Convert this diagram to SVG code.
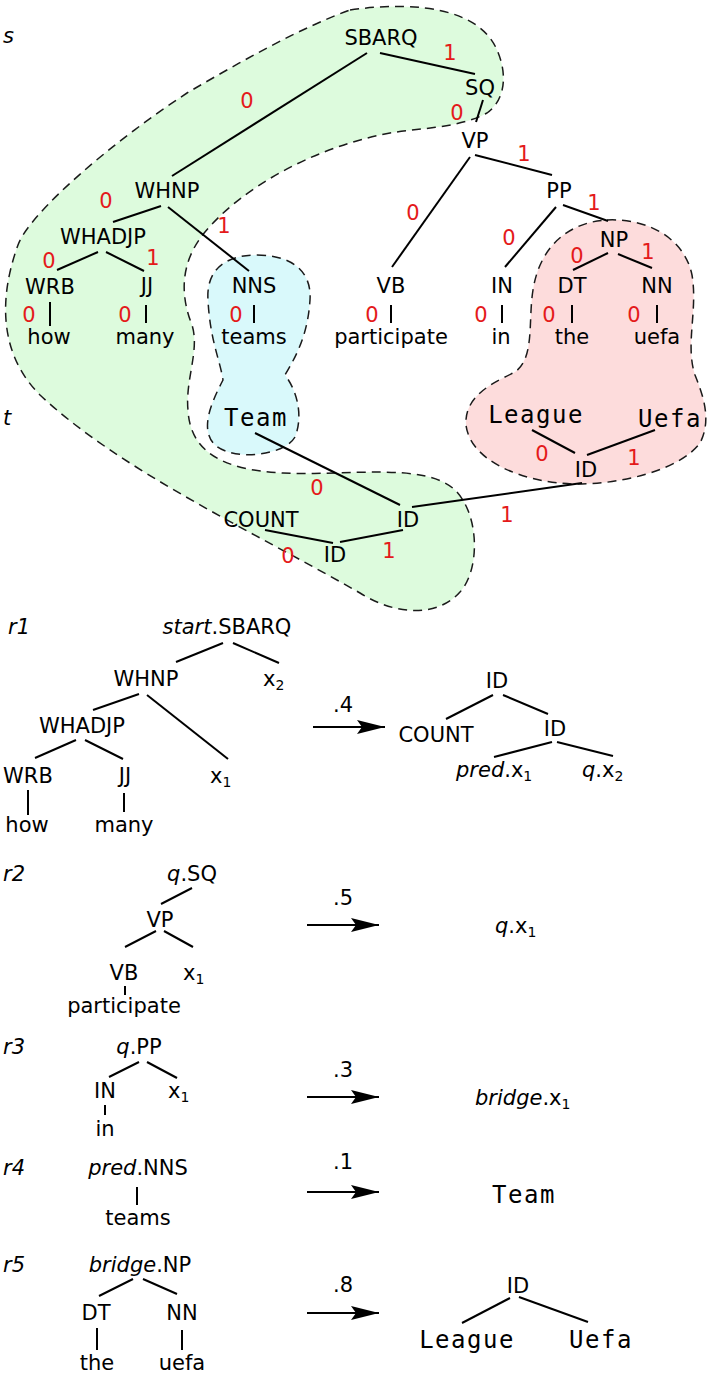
<svg xmlns="http://www.w3.org/2000/svg" width="713" height="1374" viewBox="0 0 713 1374">
<style>
text{font-family:"DejaVu Sans","Liberation Sans",sans-serif;font-size:21px;fill:#000}
.m{text-anchor:middle}
.i{font-style:italic}
.r{fill:#e41a1a;text-anchor:middle}
.mono{font-family:"DejaVu Sans Mono","Liberation Mono",monospace;font-size:24px;letter-spacing:1.5px;text-anchor:middle}
.sub{font-size:14px}
.blob{stroke:#1a1a1a;stroke-width:1.5;stroke-dasharray:9 6}
line{stroke:#000;stroke-width:2}
.arr{stroke-width:2}
</style>
<defs>
<marker id="stealth" markerUnits="userSpaceOnUse" markerWidth="30" markerHeight="16" refX="28" refY="7" orient="auto">
<path d="M0,0 L28,7 L0,14 L5,7 Z" fill="#000"/>
</marker>
</defs>

<g id="regions">
<path id="region-green" class="blob" fill="#ddfbdd" d="M350,10 C420,0 480,10 497,50 C508,75 505,100 487,113 C460,128 420,128 390,133 C310,148 240,190 205,232 C180,262 180,295 192,325 C200,350 185,380 188,410 C190,450 220,470 283,473 C350,476 425,462 455,490 C480,515 480,570 460,592 C440,615 400,618 360,593 C250,530 120,470 40,395 C0,355 -2,300 18,245 C30,212 115,140 187,93 C240,62 300,28 350,10 Z"/>
<path id="region-blue" class="blob" fill="#d9f9fb" d="M257,255 C290,255 312,270 310,300 C308,330 300,350 285,375 C300,395 302,420 295,437 C285,455 235,462 215,445 C200,430 210,405 223,380 C220,360 210,340 208,300 C206,270 225,255 257,255 Z"/>
<path id="region-pink" class="blob" fill="#fddcdc" d="M607,220 C650,218 685,240 692,275 C698,310 685,345 695,375 C703,395 712,420 700,443 C680,470 620,485 573,484 C520,482 470,460 466,425 C464,395 495,382 515,372 C535,358 528,320 533,290 C540,245 570,222 607,220 Z"/>
</g>

<g id="connectors">
<line x1="367" y1="53" x2="172" y2="176"/>
<line x1="380" y1="53" x2="475" y2="74"/>
<line x1="483" y1="100" x2="476" y2="122"/>
<line x1="470" y1="157" x2="392" y2="267"/>
<line x1="475" y1="155" x2="552" y2="175"/>
<line x1="556" y1="207" x2="505" y2="267"/>
<line x1="563" y1="205" x2="608" y2="221"/>
<line x1="608" y1="253" x2="573" y2="270"/>
<line x1="618" y1="254" x2="652" y2="268"/>
<line x1="161" y1="206" x2="113" y2="222"/>
<line x1="168" y1="207" x2="249" y2="271"/>
<line x1="98" y1="252" x2="57" y2="270"/>
<line x1="106" y1="252" x2="144" y2="271"/>
<line x1="50" y1="302" x2="50" y2="326"/>
<line x1="146" y1="305" x2="146" y2="323"/>
<line x1="254" y1="305" x2="254" y2="323"/>
<line x1="391" y1="305" x2="391" y2="323"/>
<line x1="502" y1="305" x2="502" y2="323"/>
<line x1="572" y1="305" x2="572" y2="323"/>
<line x1="657" y1="305" x2="657" y2="323"/>
<line x1="255" y1="433" x2="400" y2="505"/>
<line x1="532" y1="430" x2="575" y2="453"/>
<line x1="655" y1="430" x2="587" y2="455"/>
<line x1="582" y1="483" x2="412" y2="507"/>
<line x1="403" y1="530" x2="340" y2="542"/>
<line x1="265" y1="530" x2="333" y2="543"/>
<!-- r1 -->
<line x1="223" y1="643" x2="176" y2="662"/>
<line x1="233" y1="643" x2="279" y2="663"/>
<line x1="139" y1="694" x2="93" y2="710"/>
<line x1="147" y1="695" x2="228" y2="759"/>
<line x1="76" y1="740" x2="35" y2="758"/>
<line x1="85" y1="740" x2="123" y2="759"/>
<line x1="28" y1="790" x2="28" y2="815"/>
<line x1="124" y1="793" x2="124" y2="812"/>
<line x1="493" y1="695" x2="446" y2="719"/>
<line x1="503" y1="695" x2="548" y2="714"/>
<line x1="552" y1="742" x2="494" y2="757"/>
<line x1="557" y1="742" x2="613" y2="756"/>
<line class="arr" x1="313" y1="727" x2="385" y2="727" marker-end="url(#stealth)"/>
<!-- r2 -->
<line x1="192" y1="888" x2="161" y2="904"/>
<line x1="156" y1="931" x2="125" y2="947"/>
<line x1="164" y1="931" x2="193" y2="947"/>
<line x1="125" y1="986" x2="125" y2="995"/>
<line class="arr" x1="307" y1="925" x2="379" y2="925" marker-end="url(#stealth)"/>
<!-- r3 -->
<line x1="139" y1="1062" x2="109" y2="1077"/>
<line x1="147" y1="1062" x2="177" y2="1078"/>
<line x1="105" y1="1105" x2="105" y2="1115"/>
<line class="arr" x1="307" y1="1097" x2="379" y2="1097" marker-end="url(#stealth)"/>
<!-- r4 -->
<line x1="137" y1="1187" x2="137" y2="1205"/>
<line class="arr" x1="307" y1="1192" x2="379" y2="1192" marker-end="url(#stealth)"/>
<!-- r5 -->
<line x1="133" y1="1279" x2="99" y2="1296"/>
<line x1="143" y1="1279" x2="177" y2="1294"/>
<line x1="97" y1="1328" x2="97" y2="1350"/>
<line x1="182" y1="1330" x2="182" y2="1350"/>
<line x1="510" y1="1298" x2="462" y2="1323"/>
<line x1="519" y1="1297" x2="588" y2="1322"/>
<line class="arr" x1="307" y1="1313" x2="379" y2="1313" marker-end="url(#stealth)"/>
</g>

<g id="edge-labels">
<text class="r" x="247" y="108">0</text>
<text class="r" x="450" y="60">1</text>
<text class="r" x="457" y="120">0</text>
<text class="r" x="524" y="161">1</text>
<text class="r" x="413" y="220">0</text>
<text class="r" x="594" y="210">1</text>
<text class="r" x="509" y="245">0</text>
<text class="r" x="577" y="263">0</text>
<text class="r" x="648" y="259">1</text>
<text class="r" x="106" y="208">0</text>
<text class="r" x="224" y="233">1</text>
<text class="r" x="49" y="268">0</text>
<text class="r" x="153" y="265">1</text>
<text class="r" x="29" y="322">0</text>
<text class="r" x="125" y="322">0</text>
<text class="r" x="236" y="322">0</text>
<text class="r" x="372" y="322">0</text>
<text class="r" x="481" y="322">0</text>
<text class="r" x="549" y="322">0</text>
<text class="r" x="634" y="322">0</text>
<text class="r" x="542" y="461">0</text>
<text class="r" x="634" y="465">1</text>
<text class="r" x="507" y="522">1</text>
<text class="r" x="317" y="495">0</text>
<text class="r" x="389" y="558">1</text>
<text class="r" x="288" y="563">0</text>
<text class="m" x="343" y="712">.4</text>
<text class="m" x="343" y="905">.5</text>
<text class="m" x="343" y="1077">.3</text>
<text class="m" x="343" y="1169">.1</text>
<text class="m" x="343" y="1292">.8</text>
</g>

<g id="section-labels">
<text class="i" x="3" y="43">s</text>
<text class="i" x="3" y="425">t</text>
<text class="i" x="8" y="634">r1</text>
<text class="i" x="3" y="881">r2</text>
<text class="i" x="3" y="1054">r3</text>
<text class="i" x="3" y="1175">r4</text>
<text class="i" x="3" y="1272">r5</text>
</g>

<g id="n-SBARQ"><text class="m" x="381" y="45">SBARQ</text></g>
<g id="n-SQ"><text class="m" x="480" y="95">SQ</text></g>
<g id="n-VP"><text class="m" x="475" y="148">VP</text></g>
<g id="n-PP"><text class="m" x="559" y="198">PP</text></g>
<g id="n-NP"><text class="m" x="614" y="247">NP</text></g>
<g id="n-WHNP"><text class="m" x="167" y="198">WHNP</text></g>
<g id="n-WHADJP"><text class="m" x="103" y="244">WHADJP</text></g>
<g id="n-WRB"><text class="m" x="50" y="294">WRB</text></g>
<g id="n-JJ"><text class="m" x="147" y="293">JJ</text></g>
<g id="n-NNS"><text class="m" x="254" y="293">NNS</text></g>
<g id="n-VB"><text class="m" x="391" y="293">VB</text></g>
<g id="n-IN"><text class="m" x="502" y="293">IN</text></g>
<g id="n-DT"><text class="m" x="572" y="293">DT</text></g>
<g id="n-NN"><text class="m" x="657" y="293">NN</text></g>
<g id="n-how"><text class="m" x="49" y="344">how</text></g>
<g id="n-many"><text class="m" x="145" y="344">many</text></g>
<g id="n-teams"><text class="m" x="254" y="344">teams</text></g>
<g id="n-participate"><text class="m" x="391" y="344">participate</text></g>
<g id="n-in"><text class="m" x="501" y="344">in</text></g>
<g id="n-the"><text class="m" x="572" y="344">the</text></g>
<g id="n-uefa"><text class="m" x="657" y="344">uefa</text></g>
<g id="n-Team"><text class="mono" x="256" y="426">Team</text></g>
<g id="n-League"><text class="mono" x="536" y="423">League</text></g>
<g id="n-Uefa"><text class="mono" x="670" y="427">Uefa</text></g>
<g id="n-ID-pink"><text class="m" x="586" y="477">ID</text></g>
<g id="n-ID-green"><text class="m" x="408" y="527">ID</text></g>
<g id="n-COUNT"><text class="m" x="261" y="527">COUNT</text></g>
<g id="n-ID-low"><text class="m" x="335" y="562">ID</text></g>

<g id="r1-start-SBARQ"><text class="m" x="227" y="634"><tspan class="i">start</tspan>.SBARQ</text></g>
<g id="r1-WHNP"><text class="m" x="146" y="686">WHNP</text></g>
<g id="r1-x2"><text x="263" y="686">x<tspan class="sub" dy="4">2</tspan></text></g>
<g id="r1-WHADJP"><text class="m" x="82" y="733">WHADJP</text></g>
<g id="r1-WRB"><text class="m" x="28" y="783">WRB</text></g>
<g id="r1-JJ"><text class="m" x="125" y="783">JJ</text></g>
<g id="r1-x1"><text x="210" y="783">x<tspan class="sub" dy="4">1</tspan></text></g>
<g id="r1-how"><text class="m" x="27" y="832">how</text></g>
<g id="r1-many"><text class="m" x="124" y="832">many</text></g>
<g id="r1-ID"><text class="m" x="497" y="688">ID</text></g>
<g id="r1-COUNT"><text class="m" x="436" y="742">COUNT</text></g>
<g id="r1-ID2"><text class="m" x="555" y="736">ID</text></g>
<g id="r1-pred-x1"><text x="456" y="777"><tspan class="i">pred</tspan>.x<tspan class="sub" dy="4">1</tspan></text></g>
<g id="r1-q-x2"><text x="582" y="777"><tspan class="i">q</tspan>.x<tspan class="sub" dy="4">2</tspan></text></g>

<g id="r2-q-SQ"><text class="m" x="192" y="881"><tspan class="i">q</tspan>.SQ</text></g>
<g id="r2-VP"><text class="m" x="160" y="927">VP</text></g>
<g id="r2-VB"><text class="m" x="124" y="980">VB</text></g>
<g id="r2-x1"><text x="183" y="980">x<tspan class="sub" dy="4">1</tspan></text></g>
<g id="r2-participate"><text class="m" x="124" y="1013">participate</text></g>
<g id="r2-q-x1"><text x="495" y="933"><tspan class="i">q</tspan>.x<tspan class="sub" dy="4">1</tspan></text></g>

<g id="r3-q-PP"><text class="m" x="139" y="1054"><tspan class="i">q</tspan>.PP</text></g>
<g id="r3-IN"><text class="m" x="105" y="1098">IN</text></g>
<g id="r3-x1"><text x="168" y="1098">x<tspan class="sub" dy="4">1</tspan></text></g>
<g id="r3-in"><text class="m" x="105" y="1136">in</text></g>
<g id="r3-bridge-x1"><text x="475" y="1105"><tspan class="i">bridge</tspan>.x<tspan class="sub" dy="4">1</tspan></text></g>

<g id="r4-pred-NNS"><text class="m" x="138" y="1175"><tspan class="i">pred</tspan>.NNS</text></g>
<g id="r4-teams"><text class="m" x="138" y="1225">teams</text></g>
<g id="r4-Team"><text class="mono" x="524" y="1203">Team</text></g>

<g id="r5-bridge-NP"><text class="m" x="140" y="1272"><tspan class="i">bridge</tspan>.NP</text></g>
<g id="r5-DT"><text class="m" x="96" y="1320">DT</text></g>
<g id="r5-NN"><text class="m" x="182" y="1320">NN</text></g>
<g id="r5-the"><text class="m" x="97" y="1370">the</text></g>
<g id="r5-uefa"><text class="m" x="182" y="1370">uefa</text></g>
<g id="r5-ID"><text class="m" x="518" y="1293">ID</text></g>
<g id="r5-League"><text class="mono" x="467" y="1348">League</text></g>
<g id="r5-Uefa"><text class="mono" x="601" y="1348">Uefa</text></g>
</svg>
